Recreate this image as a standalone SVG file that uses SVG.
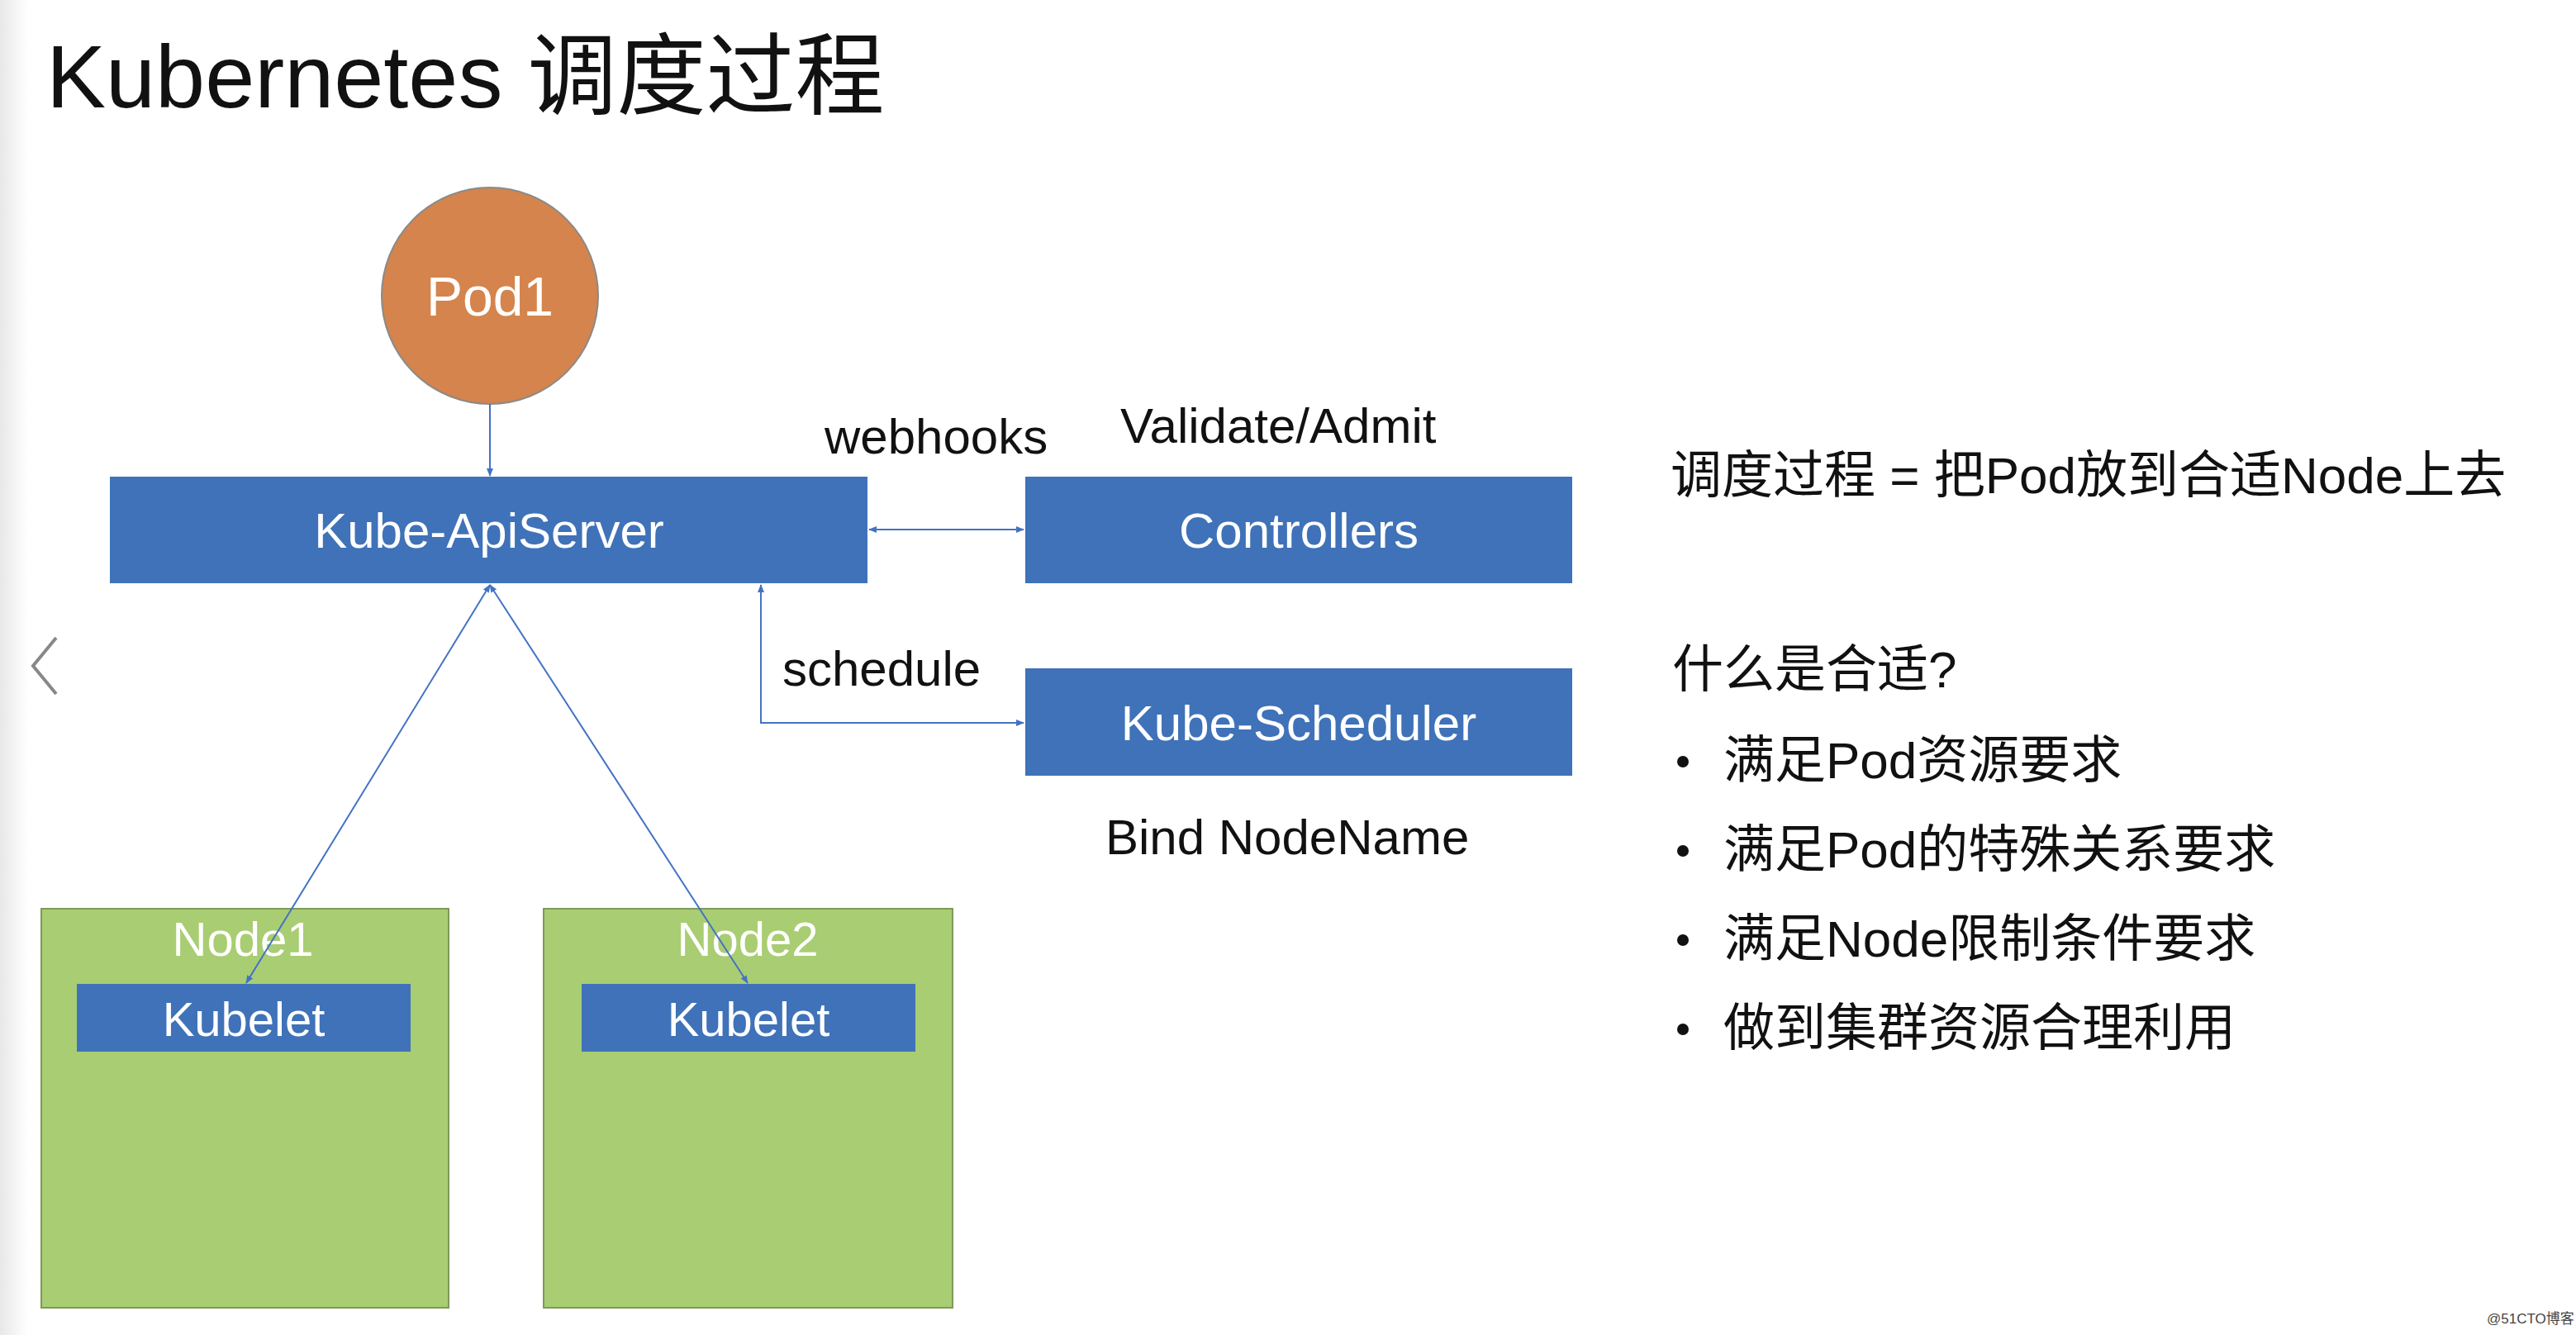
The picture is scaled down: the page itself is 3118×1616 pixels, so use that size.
<svg xmlns="http://www.w3.org/2000/svg" width="3118" height="1616" viewBox="0 0 3118 1616">
<defs>
<linearGradient id="edge" x1="0" x2="1"><stop offset="0" stop-color="#e8e8e8"/><stop offset="1" stop-color="#ffffff"/></linearGradient>
<marker id="ah" viewBox="0 0 10 10" refX="9" refY="5" markerWidth="5" markerHeight="5" orient="auto-start-reverse"><path d="M0,1 L10,5 L0,9 z" fill="#4472c4"/></marker>
</defs>
<style>
text{font-family:"Liberation Sans","Noto Sans CJK SC",sans-serif}
.blue{fill:#3f72b8}
.green{fill:#a9cd72;stroke:#7d9a5a;stroke-width:2}
.wt{fill:#fff;text-anchor:middle}
.bk{fill:#111}
.con{stroke:#4472c4;stroke-width:2;fill:none}
</style>
<rect width="3118" height="1616" fill="#fff"/>
<rect width="34" height="1616" fill="url(#edge)"/>
<polyline points="68,772 40,806 68,840" fill="none" stroke="#888" stroke-width="4"/>
<text x="56" y="130" font-size="108" class="bk">Kubernetes 调度过程</text>

<g id="pod1"><circle cx="593" cy="358" r="131" fill="#d4844c" stroke="#8a8a8a" stroke-width="2"/><text x="593" y="382" font-size="66" class="wt">Pod1</text></g>
<g id="apiserver"><rect x="133" y="577" width="917" height="129" class="blue"/><text x="592" y="663" font-size="60" class="wt">Kube-ApiServer</text></g>
<g id="controllers"><rect x="1241" y="577" width="662" height="129" class="blue"/><text x="1572" y="663" font-size="60" class="wt">Controllers</text></g>
<g id="scheduler"><rect x="1241" y="809" width="662" height="130" class="blue"/><text x="1572" y="896" font-size="60" class="wt">Kube-Scheduler</text></g>
<g id="node1"><rect x="50" y="1100" width="493" height="483" class="green"/><text x="294" y="1157" font-size="58" class="wt">Node1</text>
<rect x="93" y="1191" width="404" height="82" class="blue"/><text x="295" y="1254" font-size="58" class="wt">Kubelet</text></g>
<g id="node2"><rect x="658" y="1100" width="495" height="483" class="green"/><text x="905" y="1157" font-size="58" class="wt">Node2</text>
<rect x="704" y="1191" width="404" height="82" class="blue"/><text x="906" y="1254" font-size="58" class="wt">Kubelet</text></g>

<g id="connectors">
<line x1="593" y1="489" x2="593" y2="576" class="con" marker-end="url(#ah)"/>
<line x1="1052" y1="641" x2="1239" y2="641" class="con" marker-start="url(#ah)" marker-end="url(#ah)"/>
<polyline points="921,708 921,875 1239,875" class="con" marker-start="url(#ah)" marker-end="url(#ah)"/>
<line x1="593" y1="708" x2="298" y2="1190" class="con" marker-start="url(#ah)" marker-end="url(#ah)"/>
<line x1="593" y1="708" x2="905" y2="1190" class="con" marker-start="url(#ah)" marker-end="url(#ah)"/>
</g>

<text x="998" y="549" font-size="60" class="bk">webhooks</text>
<text x="1356" y="536" font-size="60" class="bk">Validate/Admit</text>
<text x="947" y="830" font-size="60" class="bk">schedule</text>
<text x="1338" y="1034" font-size="60" class="bk">Bind NodeName</text>

<g font-size="62" class="bk">
<text x="2022" y="597" class="bk">调度过程 = 把Pod放到合适Node上去</text>
<text x="2024" y="832" class="bk">什么是合适?</text>
<g class="bk"><circle cx="2037" cy="922" r="7"/><circle cx="2037" cy="1030" r="7"/><circle cx="2037" cy="1138" r="7"/><circle cx="2037" cy="1246" r="7"/></g>
<text x="2086" y="942" class="bk">满足Pod资源要求</text>
<text x="2086" y="1050" class="bk">满足Pod的特殊关系要求</text>
<text x="2086" y="1158" class="bk">满足Node限制条件要求</text>
<text x="2086" y="1266" class="bk">做到集群资源合理利用</text>
</g>
<text x="3010" y="1602" font-size="17" fill="#444">@51CTO博客</text>
</svg>
